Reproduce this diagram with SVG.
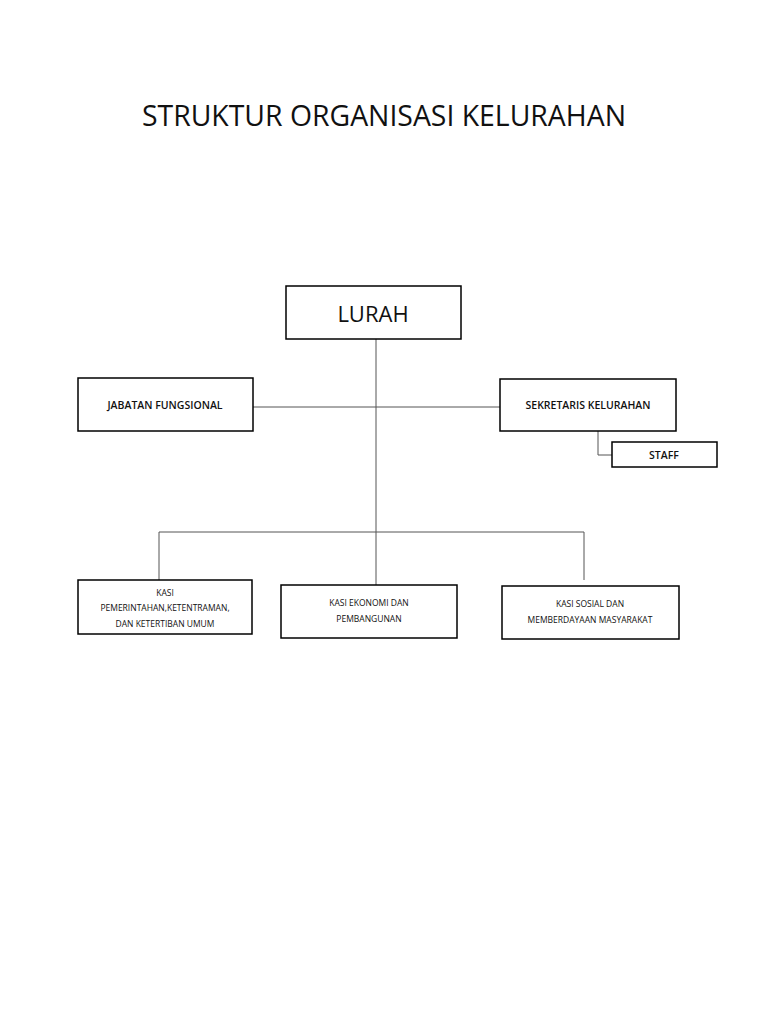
<svg xmlns="http://www.w3.org/2000/svg" width="768" height="1024" viewBox="0 0 768 1024">
<style>
.b{fill:#fff;stroke:#000;stroke-width:1.5}
.t{font-family:"Open Sans","Liberation Sans",sans-serif;fill:#111;text-anchor:middle}
.s{font-size:10.5px;font-weight:600}
.x{font-size:8.5px}
.c{fill:none;stroke:#555;stroke-width:1}
</style>
<rect width="768" height="1024" fill="#fff"/>
<text class="t" x="384" y="126" font-size="29" textLength="484" lengthAdjust="spacingAndGlyphs">STRUKTUR ORGANISASI KELURAHAN</text>
<g id="connectors">
<path class="c" d="M376 339V585M253 407H500M159 580V532H584V580M598 431V455H612"/>
</g>
<g id="lurah"><rect class="b" x="286" y="286" width="175" height="53"/><text class="t" x="373" y="322" font-size="22">LURAH</text></g>
<g id="jabatan"><rect class="b" x="78" y="378" width="175" height="53"/><text class="t s" x="165" y="409">JABATAN FUNGSIONAL</text></g>
<g id="sekretaris"><rect class="b" x="500" y="379" width="176" height="52"/><text class="t s" x="588" y="409">SEKRETARIS KELURAHAN</text></g>
<g id="staff"><rect class="b" x="612" y="442" width="105" height="25"/><text class="t s" x="664" y="459" font-size="9.5">STAFF</text></g>
<g id="kasi1"><rect class="b" x="78" y="580" width="174" height="54"/><text class="t x" x="165" y="596">KASI</text><text class="t x" x="165" y="611">PEMERINTAHAN,KETENTRAMAN,</text><text class="t x" x="165" y="627">DAN KETERTIBAN UMUM</text></g>
<g id="kasi2"><rect class="b" x="281" y="585" width="176" height="53"/><text class="t x" x="369" y="606">KASI EKONOMI DAN</text><text class="t x" x="369" y="622">PEMBANGUNAN</text></g>
<g id="kasi3"><rect class="b" x="502" y="586" width="177" height="53"/><text class="t x" x="590" y="607">KASI SOSIAL DAN</text><text class="t x" x="590" y="623">MEMBERDAYAAN MASYARAKAT</text></g>
</svg>
